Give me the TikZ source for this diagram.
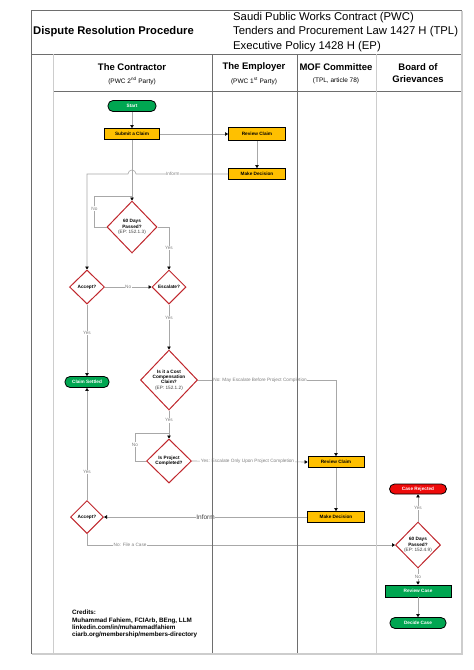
\documentclass[tikz,border=0pt]{standalone}
\usepackage{fontspec}
\setmainfont{Liberation Sans}
\usetikzlibrary{shapes.geometric,arrows.meta,calc,positioning}
\definecolor{procyellow}{HTML}{FFC000}
\definecolor{termgreen}{HTML}{00A651}
\definecolor{termred}{HTML}{EE0A0A}
\definecolor{decred}{HTML}{C0272D}
\definecolor{conngray}{HTML}{A8A8A8}
\definecolor{lanegray}{HTML}{6E6E6E}
\definecolor{lightlane}{HTML}{CDCDCD}
\tikzset{
  nodefont/.style={font=\fontsize{4.7}{5.4}\selectfont\bfseries},
  proc/.style={nodefont,draw=black,line width=0.8pt,fill=procyellow,minimum width=57pt,minimum height=11pt,inner sep=0pt},
  procgreen/.style={proc,fill=termgreen,text=white},
  term/.style={nodefont,draw=black,line width=0.8pt,fill=termgreen,text=white,rounded corners=5pt,minimum width=48pt,minimum height=11pt,inner sep=0pt},
  dec/.style={nodefont,diamond,draw=decred,line width=1pt,fill=white,inner sep=0pt,align=center},
  conn/.style={draw=conngray,line width=0.6pt,-{Triangle[length=3pt,width=3.5pt,color=black]}},
  lbl/.style={fill=white,inner sep=0.6pt,text=gray,font=\fontsize{4.7}{5}\selectfont},
  lanehead/.style={align=center,font=\fontsize{9.5}{12}\selectfont\bfseries},
  lanesub/.style={font=\fontsize{6.5}{7}\selectfont}
}
\newcommand{\refnote}[1]{\\{\mdseries\color{darkgray}#1}}
\begin{document}
\begin{tikzpicture}[x=1pt,y=-1pt]
\useasboundingbox (0,0) rectangle (474,670);
\fill[white] (0,0) rectangle (474,670);

% header
\node[anchor=west,inner sep=0pt,font=\fontsize{11.2}{13}\selectfont\bfseries] (title) at (33,32) {Dispute Resolution Procedure};
\node[anchor=north west,align=left,inner sep=0pt,font=\fontsize{11.3}{14.5}\selectfont] (laws) at (233,12) {Saudi Public Works Contract (PWC)\\Tenders and Procurement Law 1427 H (TPL)\\Executive Policy 1428 H (EP)};

% lane heads
\node[lanehead] (contractor) at (132,67) {The Contractor};
\node[lanesub] (contractorsub) at (132,81) {(PWC 2\textsuperscript{nd} Party)};
\node[lanehead] (employer) at (254,67) {The Employer};
\node[lanesub] (employersub) at (254,81) {(PWC 1\textsuperscript{st} Party)};
\node[lanehead] (mof) at (336,67) {MOF Committee};
\node[lanesub] (mofsub) at (336,81) {(TPL, article 78)};
\node[lanehead] (board) at (418,73) {Board of\\Grievances};

% contractor lane
\node[term] (start) at (132,106) {Start};
\node[proc,minimum width=55pt] (submit) at (132,134) {Submit a Claim};
\node[dec,minimum width=50pt,minimum height=52pt] (days1) at (132,227) {60 Days\\Passed?\refnote{(EP: 152.1.3)}};
\node[dec,minimum width=35pt,minimum height=34pt] (accept1) at (87,287) {Accept?};
\node[dec,minimum width=34pt,minimum height=34pt] (escalate) at (169,287) {Escalate?};
\node[term,minimum width=44pt] (settled) at (87,382) {Claim Settled};
\node[dec,minimum width=57pt,minimum height=60pt] (cost) at (169,380) {Is it a Cost\\Compensation\\Claim?\refnote{(EP: 152.1.2)}};
\node[dec,minimum width=45pt,minimum height=44pt] (completed) at (169,461) {Is Project\\Completed?};
\node[dec,minimum width=33pt,minimum height=33pt] (accept2) at (87,517) {Accept?};

% employer lane
\node[proc,minimum height=13pt] (review1) at (257,134) {Review Claim};
\node[proc] (decide1) at (257,174) {Make Decision};

% mof lane
\node[proc,minimum width=56pt] (review2) at (336,462) {Review Claim};
\node[proc] (decide2) at (336,517) {Make Decision};

% board lane
\node[term,fill=termred,minimum width=57pt,minimum height=10pt] (rejected) at (418,489) {Case Rejected};
\node[dec,minimum width=45pt,minimum height=46pt] (days2) at (418,545) {60 Days\\Passed?\refnote{(EP: 152.4.9)}};
\node[procgreen,minimum width=66pt,minimum height=12pt] (reviewcase) at (418,591) {Review Case};
\node[term,minimum width=56pt] (decidecase) at (418,623) {Decide Case};

\node[anchor=north west,align=left,inner sep=0pt,font=\fontsize{6.3}{7.4}\selectfont\bfseries] (credits) at (72,610) {Credits:\\Muhammad Fahiem, FCIArb, BEng, LLM\\linkedin.com/in/muhammadfahiem\\ciarb.org/membership/members-directory};

% connectors
\draw[conn] (start) -- (submit);
\draw[conn] (submit) -- (review1);
\draw[conn] (review1) -- (decide1);
\draw[conn] (submit) -- (days1);
\draw[conn] (decide1.west) -- node[lbl,pos=0.6]{Inform} ($(submit.south |- decide1.west)+(4,0)$) arc[start angle=0,end angle=180,radius=4pt] -- (accept1.north |- decide1.west) -- (accept1.north);
\coordinate (days1top) at ($(days1.north)+(0,-4)$);
\draw[conn,-] (days1.west) -- ++(-12,0) |- node[lbl,pos=0.3]{No} (days1top);
\draw[conn] (days1.east) -| node[lbl,pos=0.75]{Yes} (escalate.north);
\draw[conn] (accept1.east) -- node[lbl]{No} (escalate.west);
\draw[conn] (accept1.south) -- node[lbl,pos=0.4]{Yes} (settled.north);
\draw[conn] (escalate.south) -- node[lbl,pos=0.3]{Yes} (cost.north);
\draw[conn] (cost.east) -| node[lbl,pos=0.225]{No: May Escalate Before Project Completion} (review2.north);
\draw[conn] (cost.south) -- node[lbl,pos=0.35]{Yes} (completed.north);
\coordinate (completedtop) at ($(completed.north)+(0,-5)$);
\draw[conn,-] (completed.west) -- ++(-11,0) |- node[lbl,pos=0.3]{No} (completedtop);
\draw[conn] (completed.east) -- node[lbl,pos=0.48]{Yes: Escalate Only Upon Project Completion} (review2.west);
\draw[conn] (review2) -- (decide2);
\draw[conn] (decide2.west) -- node[fill=white,inner sep=0.6pt,text=darkgray,font=\fontsize{6.5}{7}\selectfont]{Inform} (accept2.east);
\draw[conn] (accept2.north) -- node[lbl,pos=0.25]{Yes} (settled.south);
\draw[conn] (accept2.south) |- node[lbl,pos=0.57]{No: File a Case} (days2.west);
\draw[conn] (days2.north) -- node[lbl]{Yes} (rejected.south);
\draw[conn] (days2.south) -- node[lbl]{No} (reviewcase.north);
\draw[conn] (reviewcase) -- (decidecase);

% frame and lanes
\draw[lanegray,line width=0.6pt] (31,10) rectangle (461,653);
\draw[lanegray,line width=0.6pt] (31,54) -- (461,54);
\draw[lanegray,line width=0.6pt] (53,91) -- (461,91);
\draw[lightlane,line width=0.6pt] (53,54) -- (53,653);
\draw[lanegray,line width=0.6pt] (212,54) -- (212,653);
\draw[lanegray,line width=0.6pt] (297,54) -- (297,653);
\draw[lightlane,line width=0.6pt] (376,54) -- (376,653);
\draw[lightlane,line width=1.2pt] (32,654) -- (462,654) -- (462,11);
\end{tikzpicture}
\end{document}
